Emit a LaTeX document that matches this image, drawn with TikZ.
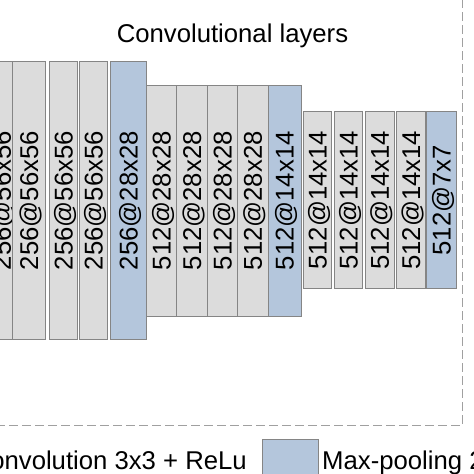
\documentclass[tikz,border=0pt]{standalone}
\usepackage{fontspec}
\setmainfont{Liberation Sans}
\definecolor{convfill}{HTML}{DCDCDC}
\definecolor{poolfill}{HTML}{B4C6DC}
\definecolor{edgegrey}{HTML}{858585}
\definecolor{dashgrey}{HTML}{A0A0A0}
\begin{document}
\begin{tikzpicture}[x=1pt,y=-1pt,
  every node/.style={font=\fontsize{25.7}{30}\selectfont},
  layerbox/.style={draw=edgegrey, line width=0.9pt, rotate=90, inner sep=0pt,
    text height=18.4pt, text depth=0pt, align=center},
  convl/.style={layerbox, fill=convfill},
  pooll/.style={layerbox, fill=poolfill},
  lbl/.style={inner sep=0pt, text=black}
]
\useasboundingbox (0,0) rectangle (474,474);
\clip (0,0) rectangle (474,474);

% dashed frame
\draw[dashgrey, line width=1pt, dash pattern=on 9pt off 4pt] (-30,-30) rectangle (462.5,425);

% title
\node[lbl, anchor=base] (title) at (232.5,42.5) {Convolutional layers};

% group 1
\node[convl, minimum width=278pt, minimum height=21.3pt] (a1) at (1.65,200.7) {256@56x56};
\node[convl, minimum width=278pt, minimum height=33pt]   (a2) at (28.8,200.7) {256@56x56};
\node[convl, minimum width=278pt, minimum height=28pt]   (a3) at (63.3,200.7) {256@56x56};
\node[convl, minimum width=278pt, minimum height=28.4pt] (a4) at (93.5,200.7) {256@56x56};
\node[pooll, minimum width=278pt, minimum height=35.3pt] (a5) at (128.35,200.7) {256@28x28};

% group 2
\node[convl, minimum width=231.5pt, minimum height=30.7pt] (b1) at (161.35,200.75) {512@28x28};
\node[convl, minimum width=231.5pt, minimum height=30.6pt] (b2) at (192,200.75) {512@28x28};
\node[convl, minimum width=231.5pt, minimum height=30pt]   (b3) at (222.3,200.75) {512@28x28};
\node[convl, minimum width=231.5pt, minimum height=30.7pt] (b4) at (252.65,200.75) {512@28x28};
\node[pooll, minimum width=231.5pt, minimum height=33pt]   (b5) at (284.5,200.75) {512@14x14};

% group 3
\node[convl, minimum width=177pt, minimum height=28.4pt] (c1) at (317.5,200.2) {512@14x14};
\node[convl, minimum width=177pt, minimum height=28.4pt] (c2) at (348.5,200.2) {512@14x14};
\node[convl, minimum width=177pt, minimum height=28.7pt] (c3) at (379.65,200.2) {512@14x14};
\node[convl, minimum width=177pt, minimum height=28.3pt] (c4) at (410.85,200.2) {512@14x14};
\node[pooll, minimum width=177pt, minimum height=29.6pt] (c5) at (441.5,200.2) {512@7x7};

% legend
\node[lbl, anchor=base east] (convtxt) at (247,469) {Convolution 3x3 + ReLu};
\node[draw=edgegrey, line width=0.9pt, fill=poolfill, minimum width=56pt, minimum height=50pt, inner sep=0pt] (poolkey) at (290,464) {};
\node[lbl, anchor=base west] (pooltxt) at (322,469) {Max-pooling 2x2};
\end{tikzpicture}
\end{document}
